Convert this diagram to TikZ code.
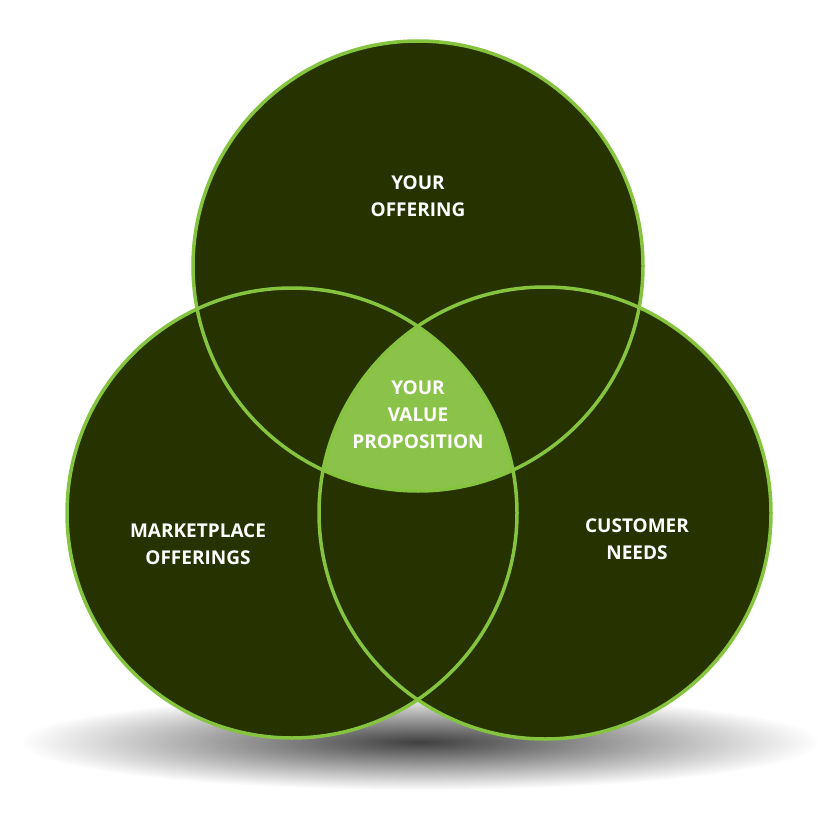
\documentclass[tikz,border=0pt]{standalone}
\usepackage{fontspec}
\setmainfont{Open Sans}
\begin{document}
\begin{tikzpicture}[x=1pt,y=-1pt,
  circ/.style={fill=dkgreen},
  rim/.style={draw=ltgreen,line width=3.5pt},
  lab/.style={text=white,font=\bfseries\fontsize{19}{27}\selectfont,align=center}]
\definecolor{dkgreen}{HTML}{263300}
\definecolor{ltgreen}{HTML}{86C440}
\definecolor{cgreen}{HTML}{8BC34A}
\useasboundingbox (0,0) rectangle (840,840);
\fill[white] (0,0) rectangle (840,840);
\shade[inner color=black!75,outer color=white] (420,742) ellipse [x radius=400,y radius=48];
\coordinate (T) at (418,266);
\coordinate (L) at (292,513);
\coordinate (R) at (545,513);
\fill[circ] (T) circle (225);
\fill[circ] (L) circle (225);
\fill[circ] (R) circle (226);
\begin{scope}
\clip (T) circle (225);
\clip (L) circle (225);
\fill[cgreen] (R) circle (226);
\end{scope}
\draw[rim] (T) circle (225);
\draw[rim] (L) circle (225);
\draw[rim] (R) circle (226);
\node[lab] (t) at (418,196) {YOUR\\OFFERING};
\node[lab] (c) at (418,415) {YOUR\\VALUE\\PROPOSITION};
\node[lab] (l) at (198,544) {MARKETPLACE\\OFFERINGS};
\node[lab] (r) at (637,539) {CUSTOMER\\NEEDS};
\end{tikzpicture}
\end{document}
